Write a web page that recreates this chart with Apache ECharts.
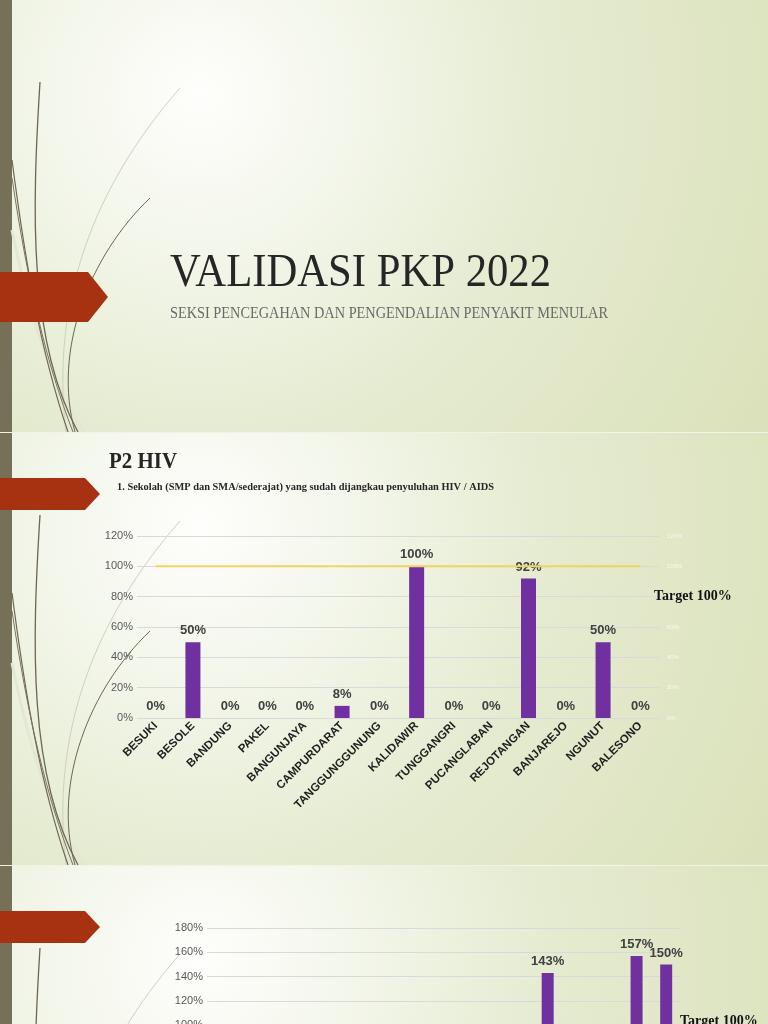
<!DOCTYPE html>
<html><head><meta charset="utf-8">
<script src="https://cdn.jsdelivr.net/npm/echarts@6/dist/echarts.min.js"></script>
<style>html,body{margin:0;padding:0;background:#dfe5c2;overflow:hidden}#c{width:768px;height:1024px}</style>
</head><body><div id="c"></div>
<script>
// ---- data ----
const titleText = 'VALIDASI PKP 2022';
const subtitleText = 'SEKSI PENCEGAHAN DAN PENGENDALIAN PENYAKIT MENULAR';
const slide2Title = 'P2 HIV';
const slide2Subtitle = '1. Sekolah (SMP dan SMA/sederajat) yang sudah dijangkau penyuluhan HIV / AIDS';
const targetText = 'Target 100%';

const categories1 = ['BESUKI','BESOLE','BANDUNG','PAKEL','BANGUNJAYA','CAMPURDARAT','TANGGUNGGUNUNG','KALIDAWIR','TUNGGANGRI','PUCANGLABAN','REJOTANGAN','BANJAREJO','NGUNUT','BALESONO'];
const values1 = [0, 50, 0, 0, 0, 8, 0, 100, 0, 0, 92, 0, 50, 0];
const target1 = [100,100,100,100,100,100,100,100,100,100,100,100,100,100];
const yMax1 = 120, yStep1 = 20;

// third slide: only the top of the chart is visible; category names and low values are cut off
const categories2 = ['','','','','','','','','','','','','','','',''];
const values2 = [null,null,null,null,null,null,null,null,null,null,null,143,null,null,157,150];
const target2 = [100,100,100,100,100,100,100,100,100,100,100,100,100,100,100,100];
const yMax2 = 180, yStep2 = 20;

// ---- helpers ----
const mctx = document.createElement('canvas').getContext('2d');
function fitScale(text, font, target){ mctx.font = font; return target / mctx.measureText(text).width; }

const slideTops = [0, 433, 866];
const SH = 432;
const graphics = [];
slideTops.forEach(function(t, i){
  graphics.push({type:'rect', z:-100, shape:{x:0,y:t,width:768,height:SH},
    style:{fill:{type:'radial', x:200, y:t+95, r:640, global:true,
      colorStops:[{offset:0,color:'#fefefc'},{offset:0.22,color:'#f4f7ec'},{offset:0.55,color:'#e5ebd0'},{offset:1,color:'#dbe2bb'}]}}});
  graphics.push({type:'rect', z:-95, shape:{x:0,y:t+SH,width:768,height:1}, style:{fill:'#f1f4e4'}});
  graphics.push({type:'rect', z:-90, shape:{x:0,y:t,width:12,height:SH}, style:{fill:'#767058'}});
  const curves = [
    [12,230, 30,320, 55,390, 84,432, '#e3e7d4', 3],
    [180,88, 95,185, 50,300, 66,432, '#cdd2bd', 1],
    [40,82, 32,210, 28,340, 78,432, '#6d6650', 1.3],
    [12,160, 25,260, 40,350, 68,432, '#6d6650', 1.2],
    [12,178, 28,285, 46,362, 73,432, '#7a735c', 1],
    [150,198, 90,255, 52,350, 75,432, '#6d6650', 1]
  ];
  curves.forEach(function(c){
    graphics.push({type:'bezierCurve', z:-80,
      shape:{x1:c[0],y1:t+c[1],cpx1:c[2],cpy1:t+c[3],cpx2:c[4],cpy2:t+c[5],x2:c[6],y2:t+c[7]},
      style:{stroke:c[8], lineWidth:c[9], fill:null}});
  });
  let top, bot, flat, tip;
  if (i === 0){ top = 272; bot = 322; flat = 88; tip = 108; }
  else { top = t+45; bot = t+77; flat = 85; tip = 100; }
  graphics.push({type:'polygon', z:-70, shape:{points:[[0,top],[flat,top],[tip,(top+bot)/2],[flat,bot],[0,bot]]}, style:{fill:'#a63212'}});
});

const fTitle = '47px "Liberation Serif"';
const fSub = '17px "Liberation Serif"';
const fP2 = 'bold 24px "Liberation Serif"';
const fP2s = 'bold 11px "Liberation Serif"';
graphics.push({type:'text', z:10, x:170, y:274, scaleX:fitScale(titleText,fTitle,381),
  style:{text:titleText, font:fTitle, fill:'#262626', textVerticalAlign:'middle'}});
graphics.push({type:'text', z:10, x:170, y:314, scaleX:fitScale(subtitleText,fSub,438),
  style:{text:subtitleText, font:fSub, fill:'#6a6a6a', textVerticalAlign:'middle'}});
graphics.push({type:'text', z:10, x:109, y:462, scaleX:fitScale(slide2Title,fP2,68),
  style:{text:slide2Title, font:fP2, fill:'#262626', textVerticalAlign:'middle'}});
graphics.push({type:'text', z:10, x:117, y:487, scaleX:fitScale(slide2Subtitle,fP2s,377),
  style:{text:slide2Subtitle, font:fP2s, fill:'#262626', textVerticalAlign:'middle'}});
graphics.push({type:'text', z:10, x:654, y:596,
  style:{text:targetText, font:'bold 14px "Liberation Serif"', fill:'#111', textVerticalAlign:'middle'}});
graphics.push({type:'text', z:10, x:680, y:1021,
  style:{text:targetText, font:'bold 14px "Liberation Serif"', fill:'#111', textVerticalAlign:'middle'}});

const pct = function(v){ return v + '%'; };
const barLabel = {show:true, position:'top', distance:5, formatter:function(p){return p.value + '%';},
  color:'#404040', fontWeight:'bold', fontSize:13, fontFamily:'Liberation Sans'};

const option = {
  animation:false,
  graphic:{elements:graphics},
  grid:[
    {left:137, right:109, top:536, height:182, outerBoundsMode:'none', containLabel:false},
    {left:207, right:87, top:928, height:219, outerBoundsMode:'none', containLabel:false}
  ],
  xAxis:[
    {type:'category', gridIndex:0, data:categories1, axisLine:{show:false}, axisTick:{show:false},
      axisLabel:{interval:0, rotate:45, margin:6, color:'#1e1e1e', fontWeight:'bold', fontSize:11.5, fontFamily:'Liberation Sans'}},
    {type:'category', gridIndex:1, data:categories2, axisLine:{show:false}, axisTick:{show:false},
      axisLabel:{interval:0, rotate:45, color:'#1e1e1e', fontWeight:'bold', fontSize:11}}
  ],
  yAxis:[
    {type:'value', gridIndex:0, min:0, max:yMax1, interval:yStep1, axisLabel:{formatter:pct, color:'#595959', fontSize:11, margin:4, fontFamily:'Liberation Sans'},
      splitLine:{lineStyle:{color:'#d9d9d9', width:1}}, axisLine:{show:false}, axisTick:{show:false}},
    {type:'value', gridIndex:0, position:'right', min:0, max:yMax1, interval:yStep1, axisLabel:{formatter:pct, color:'rgba(255,255,255,0.75)', fontSize:6, margin:8},
      splitLine:{show:false}, axisLine:{show:false}, axisTick:{show:false}},
    {type:'value', gridIndex:1, min:0, max:yMax2, interval:yStep2, axisLabel:{formatter:pct, color:'#595959', fontSize:11, margin:4, fontFamily:'Liberation Sans'},
      splitLine:{lineStyle:{color:'#d9d9d9', width:1}}, axisLine:{show:false}, axisTick:{show:false}}
  ],
  series:[
    {type:'bar', xAxisIndex:0, yAxisIndex:0, data:values1, barWidth:15, itemStyle:{color:'#7030a0'}, label:barLabel},
    {type:'line', xAxisIndex:0, yAxisIndex:0, data:target1, symbol:'none', lineStyle:{color:'#f1d262', width:2}, z:3},
    {type:'bar', xAxisIndex:1, yAxisIndex:2, data:values2, barWidth:12, itemStyle:{color:'#7030a0'}, label:barLabel},
    {type:'line', xAxisIndex:1, yAxisIndex:2, data:target2, symbol:'none', lineStyle:{color:'#f1d262', width:2}, z:3}
  ]
};
const chart = echarts.init(document.getElementById('c'), null, {renderer:'canvas'});
chart.setOption(option);
</script>
</body></html>
